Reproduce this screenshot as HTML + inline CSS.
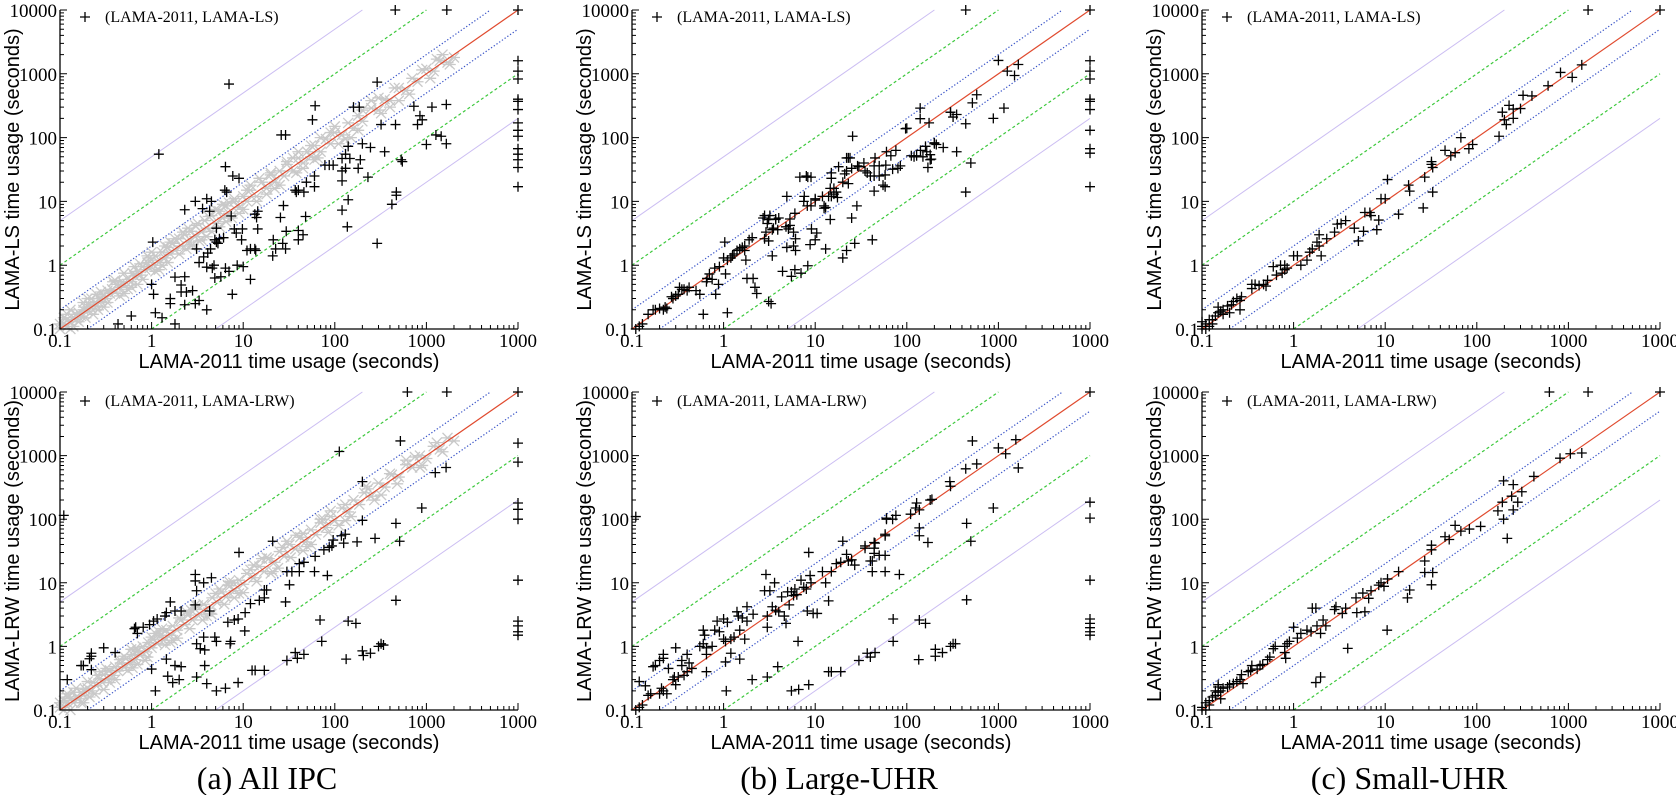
<!DOCTYPE html>
<html><head><meta charset="utf-8"><style>
html,body{margin:0;padding:0;background:#fff;}
svg{display:block;}
.tk{font-family:"Liberation Serif",serif;font-size:19px;fill:#000;}
.ttl{font-family:"Liberation Sans",sans-serif;font-size:20px;fill:#000;}
.lg{font-family:"Liberation Serif",serif;font-size:16px;fill:#000;}
.cap{font-family:"Liberation Serif",serif;font-size:32px;fill:#000;}
</style></head><body>
<svg id="fig" width="1676" height="795" viewBox="0 0 1676 795" xmlns="http://www.w3.org/2000/svg"></svg>
<script>
const yTickLabels = ["0.1","1","10","100","1000","10000"];
const xTickLabels = ["0.1","1","10","100","1000","1000"];
const captions = ["(a) All IPC","(b) Large-UHR","(c) Small-UHR"];
const yTitles = ["LAMA-LS time usage (seconds)","LAMA-LRW time usage (seconds)"];
const legendTexts = ["(LAMA-2011, LAMA-LS)","(LAMA-2011, LAMA-LRW)"];

const grayA_LS = [[0.1,0.1],[0.11,0.12],[0.12,0.11],[0.12,0.14],[0.13,0.13],[0.14,0.15],[0.15,0.14],[0.15,0.17],[0.16,0.18],[0.17,0.16],[0.18,0.2],[0.19,0.22],[0.2,0.19],[0.21,0.24],[0.22,0.21],[0.24,0.26],[0.25,0.23],[0.27,0.3],[0.28,0.27],[0.3,0.33],[0.32,0.3],[0.33,0.4],[0.35,0.36],[0.37,0.42],[0.4,0.38],[0.42,0.5],[0.45,0.45],[0.48,0.55],[0.5,0.48],[0.55,0.6],[0.6,0.55],[0.62,0.75],[0.65,0.68],[0.7,0.8],[0.75,0.7],[0.8,0.95],[0.85,0.85],[0.9,1.1],[0.95,0.9],[1.0,1.2],[1.05,1.0],[1.1,1.4],[1.2,1.1],[1.3,1.6],[1.4,1.3],[1.5,1.9],[1.6,1.5],[1.7,2.2],[1.8,1.7],[2.0,2.6],[2.1,2.0],[2.3,3.0],[2.5,2.3],[2.7,3.4],[3.0,2.8],[3.2,4.5],[3.5,3.3],[3.8,5],[4.0,3.8],[4.5,6],[5.0,4.5],[5.5,7],[6,5.5],[6.5,8.5],[7,6.5],[8,10],[9,8],[10,12],[11,10],[12,15],[14,12],[16,20],[18,16],[20,26],[22,20],[25,30],[28,25],[30,38],[35,30],[40,48],[45,40],[50,60],[55,50],[60,75],[70,60],[80,95],[90,80],[100,120],[120,110],[140,170],[160,140],[180,220],[200,180],[250,290],[300,270],[350,400],[400,380],[500,600],[600,550],[700,850],[800,750],[1000,1200],[1200,1100],[1400,1600],[1700,1500],[2000,1800],[0.13,0.2],[0.2,0.3],[0.3,0.22],[0.5,0.75],[0.7,0.5],[1.0,1.6],[1.5,1.1],[2.5,3.8],[4,2.8],[6,9],[9,6.5],[15,23],[25,18],[40,60],[60,45],[100,150],[150,100],[250,380],[400,300],[1500,2000],[0.25,0.35],[0.45,0.33],[0.9,1.4],[1.2,0.85],[2.2,3.3],[3.5,2.5],[5,7.5],[7.5,5.5],[12,18],[18,13],[30,42],[45,33],[70,100],[110,80],[300,420],[500,380],[0.11,0.15],[0.14,0.11],[0.18,0.26],[0.23,0.17],[0.38,0.55],[0.55,0.42],[0.75,1.05],[1.1,0.8],[1.8,2.6],[2.8,2.1],[0.12,0.17],[0.16,0.13],[0.19,0.15],[0.26,0.2],[0.33,0.26],[0.4,0.58],[0.6,0.45],[0.65,0.95],[0.8,0.6],[1.3,1.0],[1.4,2.0],[2.0,1.5],[2.4,1.8],[3.0,4.2],[3.3,2.4],[4.2,5.8],[5.5,4.0],[6.5,4.8],[8,11],[10,7.5],[11,15],[14,10],[20,28],[22,16],[35,48],[38,28],[55,75],[65,48],[90,120],[130,95],[180,130],[200,270],[320,240],[450,600],[650,480],[900,1150],[1100,850],[1300,1700],[1800,1400],[0.1,0.12],[0.13,0.1],[0.22,0.3],[0.28,0.38],[0.5,0.36],[0.95,1.3],[1.6,2.3],[2.7,2.0],[4.5,3.4],[7,9.5]];
const grayA_LRW = [[0.1,0.11],[0.11,0.1],[0.12,0.13],[0.13,0.15],[0.14,0.13],[0.15,0.16],[0.16,0.15],[0.17,0.19],[0.18,0.17],[0.19,0.21],[0.2,0.22],[0.22,0.2],[0.23,0.27],[0.25,0.24],[0.27,0.31],[0.29,0.27],[0.3,0.36],[0.33,0.31],[0.35,0.42],[0.38,0.35],[0.4,0.48],[0.43,0.41],[0.46,0.55],[0.5,0.47],[0.53,0.65],[0.58,0.55],[0.62,0.75],[0.66,0.62],[0.7,0.85],[0.75,0.72],[0.8,1.0],[0.87,0.82],[0.92,1.15],[1.0,0.95],[1.05,1.3],[1.15,1.1],[1.25,1.5],[1.35,1.25],[1.45,1.8],[1.6,1.5],[1.7,2.1],[1.9,1.8],[2.1,2.6],[2.3,2.2],[2.5,3.1],[2.8,2.6],[3.0,3.8],[3.4,3.2],[3.7,4.6],[4.2,4.0],[4.6,5.8],[5.2,4.9],[5.8,7.2],[6.5,6.0],[7.2,9],[8,7.5],[9,11],[10,9.5],[11,14],[13,12],[15,18],[17,15],[19,24],[22,21],[25,31],[28,26],[32,40],[37,34],[42,52],[48,44],[55,68],[62,57],[70,88],[80,74],[90,110],[100,95],[120,150],[140,130],[160,200],[185,170],[210,260],[250,230],[300,370],[350,320],[420,500],[500,460],[600,720],[700,650],[850,1000],[1000,900],[1200,1400],[1400,1250],[1700,1900],[2000,1700],[0.12,0.18],[0.18,0.13],[0.28,0.4],[0.4,0.3],[0.6,0.9],[0.85,0.6],[1.3,1.9],[1.9,1.35],[3,4.5],[4.5,3.2],[7,10.5],[10,7],[16,24],[24,17],[38,56],[55,40],[90,135],[130,95],[220,330],[320,240],[600,850],[900,700],[0.15,0.22],[0.24,0.18],[0.5,0.7],[0.7,0.52],[1.1,1.6],[1.6,1.15],[2.4,3.5],[3.6,2.6],[5.5,8],[8,5.8],[13,19],[20,14],[30,45],[45,32],[70,100],[110,80],[0.11,0.14],[0.13,0.1],[0.2,0.28],[0.3,0.21],[0.12,0.16],[0.17,0.13],[0.21,0.16],[0.26,0.35],[0.35,0.27],[0.45,0.62],[0.55,0.42],[0.68,0.95],[0.9,0.68],[1.2,1.7],[1.4,1.05],[2.0,2.8],[2.6,1.9],[3.2,4.4],[4,3],[5,6.8],[6.2,4.6],[7.8,10],[9,6.8],[12,16],[14,10.5],[18,25],[21,15],[27,36],[33,25],[45,60],[50,37],[75,100],[85,62],[130,170],[150,110],[230,300],[270,200],[400,520],[480,360],[750,950],[850,650],[1300,1600],[1500,1150],[0.1,0.13],[0.14,0.19],[0.32,0.45],[0.62,0.46],[1.0,1.4],[1.7,1.25],[2.7,3.7],[4.4,3.3],[6.8,9.2]];

const blackA_LS = [[457,10000],[1670,10000],[10000,10000],[7,690],[1.2,55],[290,740],[10000,1600],[10000,1100],[10000,830],[10000,400],[10000,370],[10000,275],[10000,170],[10000,130],[10000,105],[10000,67],[10000,55],[10000,45],[10000,34],[10000,17],[61,316],[160,300],[185,300],[730,310],[1150,300],[1650,330],[850,220],[900,190],[800,160],[320,160],[460,160],[57,190],[26,110],[29,110],[1270,110],[1450,105],[1650,80],[1000,78],[350,60],[200,80],[245,70],[140,73],[131,55],[120,47],[146,47],[190,45],[230,24],[78,37],[87,37],[96,37],[120,30],[131,33],[180,33],[60,25],[60,17],[49,20],[37,15],[38,14],[40,15],[46,14],[120,21],[120,7.3],[140,10.6],[137,4],[420,9],[470,14],[470,12.5],[546,42],[530,45],[290,2.2],[6.4,35],[6.3,15],[6.6,14],[7.7,25],[9,23],[7.4,5.9],[2.3,7.4],[3,10],[4,11],[4.5,10],[3.6,7.7],[5.1,3.8],[4.3,7],[4.4,1.8],[4.9,2.5],[5.1,2.3],[5.3,2.2],[5.5,2.6],[6.1,2.7],[8,3.7],[9.8,3.7],[8.4,3.2],[9.6,2.5],[14.4,7],[13.4,6.3],[14,5.6],[14.4,3.7],[12,1.8],[13.4,1.8],[21.3,2.5],[22.6,1.8],[21,1.4],[27.5,8.6],[29.5,3.4],[27,2.2],[29,1.8],[25.5,5.6],[40,3.5],[45,3],[40,2.5],[48,5.8],[1.03,2.3],[1,0.5],[1.05,0.35],[0.6,0.16],[0.43,0.12],[1.1,0.18],[1.3,0.15],[1.6,0.3],[1.6,0.25],[1.8,0.65],[2.3,0.66],[2.1,0.49],[2.1,0.38],[2.3,0.24],[2.4,0.38],[2.8,0.4],[3,0.25],[3.3,0.28],[4,0.2],[1.8,0.12],[4.8,1.0],[3.7,1.35],[3.3,1.1],[4,0.93],[4.6,0.9],[6.4,0.9],[5.7,0.66],[4.9,0.63],[7,0.8],[7.6,0.35],[8.6,1],[10,0.95],[12,0.6],[11,1.7],[13.7,1.7],[4.1,1.55],[3.1,1.8]];

const blackA_LRW = [[620,10000],[1670,10000],[10000,10000],[520,1700],[112,1160],[1250,540],[1640,650],[10000,1570],[10000,790],[10000,180],[10000,143],[10000,100],[10000,11],[10000,2.5],[10000,2.1],[10000,1.7],[10000,1.5],[200,390],[890,150],[465,86],[510,45],[465,5.3],[200,96],[275,50],[175,44],[125,42],[118,55],[130,58],[96,47],[87,36],[93,38],[76,33],[61,26],[46,21],[41,20],[34,15],[41,15],[60,15],[30,15],[32,9.3],[83,13],[29,5],[17,7.7],[18,7.7],[17,5.8],[12,4.7],[15,5.3],[10.5,3.4],[10.4,1.75],[6.8,2.4],[8,2.6],[7.3,1.2],[8.8,2.7],[69,2.6],[140,2.5],[170,2.3],[72,1.2],[37,0.8],[39,0.65],[46,0.75],[133,0.63],[200,0.85],[205,0.72],[245,0.78],[300,1.0],[320,1.1],[340,1.05],[30,0.6],[13.5,0.42],[12.5,0.42],[17,0.42],[8.8,0.27],[6.4,0.22],[5.1,0.2],[4,0.26],[3.8,0.5],[3.1,0.33],[1.8,0.5],[1.7,0.27],[2,0.3],[2.1,0.48],[1.45,0.63],[1.5,0.34],[1.1,0.2],[1.0,0.44],[3.1,1.1],[3.4,0.92],[3.7,1.4],[3.8,0.88],[4.9,1.4],[5.1,1.2],[7.2,1.1],[3,13.5],[3,10.7],[3.1,7.5],[3.7,10],[3,4.5],[4.3,3.6],[1.8,3.6],[2.1,3.6],[1.6,5],[1.45,3.4],[1.4,3],[1.15,2.7],[1.05,2.5],[0.95,2.2],[0.81,2],[0.67,2],[0.7,1.6],[0.65,1.9],[0.3,0.95],[0.4,0.8],[0.22,0.78],[0.22,0.7],[0.21,0.64],[0.18,0.5],[0.17,0.5],[0.22,0.43],[0.12,0.3],[0.11,115],[4.5,12],[9,30],[21,45]];

const blackB_LS = [[10000,10000],[10000,1600],[10000,1100],[10000,830],[10000,400],[10000,370],[10000,275],[10000,130],[10000,67],[10000,57],[10000,17],[440,10000],[1000,1620],[1250,1100],[1500,940],[1650,1400],[1150,290],[880,200],[580,470],[520,350],[300,250],[320,210],[440,165],[500,40],[440,14],[350,60],[140,290],[140,198],[141,63],[175,170],[160,73],[165,60],[170,34],[180,54],[128,52],[112,52],[97,138],[200,83],[210,78],[250,70],[185,46],[76,63],[59,37],[58,17],[58,26],[67,52],[50,36],[44,36],[44,25],[44,14.5],[42,2.5],[85,36],[23,19],[28.5,8.5],[25,5.5],[27,2.2],[20,1.3],[22,1.7],[22,30],[22,48],[24,48],[25.6,105],[21,27],[29,36],[37,28],[34,40],[15,23],[15,28],[14.6,16],[14,12],[16,13],[17.5,11.5],[12.5,8.5],[12.5,7.8],[14.6,5.2],[13,1.8],[10,11],[9,8.5],[7.6,12],[6.8,24],[8.3,24],[8.2,8.5],[9.1,3.7],[10.4,3.2],[10,2.5],[8.8,2.1],[8.3,0.98],[4.9,12],[5.3,5.3],[5.8,3.3],[6.1,2.6],[5.8,2],[6.1,1.7],[5.3,4.2],[4.9,1.9],[4.4,0.8],[5.5,0.67],[6,0.85],[7,0.75],[3.7,5.2],[3.9,3.6],[3.4,3.6],[3.1,5.2],[3.2,6],[2.9,3.3],[2.8,2.6],[3.1,2.4],[3.4,1.4],[3.1,0.27],[3.3,0.25],[2.3,0.36],[2.2,0.45],[2.1,0.62],[1.8,0.62],[1.1,0.18],[0.6,0.17],[0.82,0.35],[0.88,0.5],[1.05,0.73],[1.03,2.3],[2.05,2.7],[1.7,1.7],[1.75,1.2],[0.12,0.11],[0.11,0.1],[0.13,0.12],[0.15,0.17],[0.17,0.2],[0.18,0.2],[0.2,0.21],[0.22,0.2],[0.23,0.22],[0.24,0.21],[0.27,0.32],[0.28,0.3],[0.3,0.33],[0.32,0.35],[0.33,0.45],[0.35,0.42],[0.37,0.42],[0.4,0.4],[0.42,0.45],[0.5,0.4],[0.55,0.35],[0.65,0.55],[0.66,0.62],[0.7,0.73],[0.75,0.6],[0.8,0.9],[0.9,0.95],[1.0,1.3],[1.1,1.2],[1.2,1.3],[1.25,1.4],[1.3,1.5],[1.4,1.7],[1.5,1.8],[1.6,1.9],[1.7,2.0],[1.9,2.5],[2.7,5.5],[2.8,6],[3,4.5],[3.5,3.8],[3.7,5.3],[4,5.5],[4.8,4],[5.1,3.7],[6,6.5],[7.5,10],[8,25],[9,24],[10,10.5],[12,12],[13,8],[15,12],[16,16],[17,14],[18,35],[20,20],[23,48],[25,33],[30,35],[35,30],[40,25],[45,48],[50,25],[55,18],[60,60],[70,32],[80,33],[100,140],[120,50],[150,50],[180,45],[200,80],[300,250],[350,230]];

const blackB_LRW = [[10000,10000],[10000,185],[10000,104],[10000,11],[10000,2.7],[10000,2.3],[10000,1.97],[10000,1.7],[10000,1.5],[520,1700],[1000,1320],[1200,1070],[1550,1780],[1650,640],[580,740],[440,620],[295,390],[300,330],[880,150],[450,86],[500,45],[450,5.4],[188,205],[125,150],[110,120],[128,180],[137,140],[137,73],[137,55],[170,43],[180,200],[76,115],[60,104],[58,58],[58,27],[58,15],[44,43],[44,35],[44,29],[42,22],[42,15],[35,38],[83,13.5],[71,2.7],[71,1.2],[137,2.6],[160,2.3],[135,0.62],[205,0.9],[205,0.7],[245,0.8],[300,1.0],[320,1.1],[340,1.1],[45,0.8],[37,0.78],[40,0.68],[30,0.6],[19,0.4],[14,0.4],[15,0.4],[8.5,0.25],[6.6,0.21],[5.5,0.2],[3,0.33],[2.05,0.3],[1.07,0.2],[3.9,0.48],[1.5,0.63],[1.2,0.78],[1.05,0.57],[0.65,0.4],[0.65,0.95],[0.6,1.1],[0.11,0.1],[0.12,0.11],[0.13,0.12],[0.14,0.24],[0.12,0.28],[0.15,0.17],[0.16,0.18],[0.17,0.48],[0.18,0.5],[0.2,0.18],[0.2,0.6],[0.22,0.65],[0.22,0.75],[0.21,0.22],[0.22,0.2],[0.24,0.18],[0.25,0.45],[0.28,0.3],[0.29,0.33],[0.3,0.95],[0.3,0.25],[0.32,0.33],[0.35,0.5],[0.35,0.6],[0.37,0.35],[0.4,0.75],[0.4,0.4],[0.42,0.55],[0.45,0.45],[0.55,1.0],[0.6,1.8],[0.62,1.5],[0.65,0.75],[0.75,1.0],[0.8,1.8],[0.85,2.5],[0.9,1.7],[1.0,2.7],[1.0,1.3],[1.05,1.2],[1.1,2.4],[1.2,1.3],[1.3,1.4],[1.4,3.5],[1.45,3.0],[1.5,1.8],[1.6,2.8],[1.7,1.3],[1.8,4.2],[1.8,2.5],[2.1,3.2],[2.8,7.5],[2.9,13.5],[3,3],[3,2],[3.2,7.5],[3.4,4.2],[3.6,10],[3.7,3.7],[4,3.5],[4.3,6],[4.6,3],[4.8,2.3],[5,7.2],[5.2,4.5],[5.5,7.2],[5.8,6.3],[6,8],[6.3,6.5],[7,11],[7.5,8.5],[8,8],[8.5,30],[8.8,13],[9,10],[9.5,3.3],[10.5,3.3],[12,15],[13,10],[14,5.2],[15,15],[17,20],[19,21],[20,45],[22,28],[23,22],[25,23],[27,19],[35,35],[40,22],[45,42],[50,27],[60,100],[70,100],[58,55],[8.2,3.6],[6.5,1.2],[0.11,110]];

const blackC_LS = [[1640,10000],[10000,10000],[1400,1380],[820,1050],[1100,880],[600,650],[400,450],[320,460],[190,250],[200,190],[225,320],[250,280],[300,285],[210,160],[175,105],[250,200],[90,78],[82,67],[67,100],[58,58],[45,63],[52,52],[32,42],[32,38],[33,34],[27,24],[26,7.9],[33,14],[18,18],[18.5,14.5],[14,6.3],[10.6,22],[9,11],[10,11],[8.5,5.1],[8.1,3.6],[6.8,6.7],[7,6],[6,6.7],[5.8,3.4],[5.1,2.4],[4.6,3.8],[3.7,5],[3.3,4.5],[3,4.4],[2.8,3.3],[2.3,2.6],[2,1.4],[1.9,3],[1.9,2],[1.8,2.3],[1.6,1.8],[1.5,1.6],[1.4,1.2],[1.2,1.0],[1.1,1.4],[1.0,1.4],[0.8,1.0],[0.8,0.85],[0.85,0.9],[0.75,0.75],[0.6,0.95],[0.65,0.7],[0.52,0.58],[0.47,0.5],[0.5,0.47],[0.42,0.48],[0.38,0.5],[0.35,0.5],[0.35,0.43],[0.27,0.32],[0.26,0.28],[0.24,0.3],[0.22,0.27],[0.21,0.24],[0.19,0.23],[0.17,0.2],[0.16,0.19],[0.15,0.18],[0.14,0.16],[0.13,0.14],[0.12,0.14],[0.11,0.12],[0.1,0.11],[0.1,0.13],[0.15,0.22],[0.17,0.17],[0.2,0.18],[0.26,0.2],[0.72,1.0],[0.1,0.1],[0.11,0.1],[0.12,0.11],[0.13,0.12]];

const blackC_LRW = [[620,10000],[1640,10000],[10000,10000],[810,910],[1050,1070],[1400,1100],[420,470],[196,400],[250,350],[240,230],[310,270],[280,185],[190,185],[170,135],[250,140],[196,100],[215,50],[110,77],[83,70],[67,65],[58,80],[50,48],[45,53],[32,39],[32,33],[33,14.5],[32,9.3],[27,22],[27,14.5],[18.5,7.7],[17.5,5.8],[14,15],[10.6,11.5],[9,10],[8.5,9.2],[9.7,8.8],[7,7.5],[5.7,6.9],[6.6,5.7],[6,3.5],[4.9,3.4],[4.8,5.8],[3.7,4],[3.4,3.3],[2.9,4.2],[2.8,3.8],[2.1,2.6],[2.25,2.1],[1.97,1.6],[1.8,2.1],[1.75,4],[1.6,4],[1.55,1.7],[1.4,1.8],[1.2,1.6],[1.1,1.35],[1.0,2],[0.9,1.2],[0.85,1.1],[0.8,1.0],[0.8,0.8],[0.82,0.65],[0.63,1.0],[0.6,0.92],[0.55,0.68],[0.52,0.62],[0.46,0.52],[0.43,0.5],[0.4,0.44],[0.35,0.5],[0.34,0.42],[0.32,0.4],[0.27,0.36],[0.26,0.3],[0.24,0.28],[0.22,0.26],[0.2,0.25],[0.19,0.23],[0.17,0.22],[0.16,0.2],[0.15,0.19],[0.14,0.17],[0.13,0.16],[0.12,0.14],[0.11,0.13],[0.1,0.11],[0.15,0.25],[0.16,0.15],[0.28,0.26],[3.9,0.93],[1.75,0.27],[1.97,0.33],[10.5,1.8],[0.15,0.23],[0.14,0.2],[0.1,0.1],[0.11,0.1],[0.12,0.12]];

const NS = "http://www.w3.org/2000/svg";
const svg = document.getElementById("fig");
const lefts = [60, 632, 1202];
const rights = [518, 1090, 1660];
const tops = [10, 392];
const bottoms = [329, 710];
const panelKeys = ["a","b","c"];
const rowKeys = ["ls","lrw"];

function mk(tag, attrs, parent) {
  const e = document.createElementNS(NS, tag);
  for (const k in attrs) e.setAttribute(k, attrs[k]);
  (parent || svg).appendChild(e);
  return e;
}

function drawPanel(col, row, gray, black) {
  const L = lefts[col], R = rights[col], T = tops[row], B = bottoms[row];
  const dx = (R - L) / 5, dy = (B - T) / 5;
  const sx = v => L + (Math.log10(v) + 1) * dx;
  const sy = v => B - (Math.log10(v) + 1) * dy;
  const g = mk("g", {});
  
  

  if (gray) {
    const gg = mk("g", {stroke: "#c9c9c9", "stroke-width": "1.3", fill: "none"}, g);
    
    
    gray.forEach(p => {
      const x = sx(p[0]), y = sy(p[1]);
      const m = mk("path", {d: `M${x-5} ${y-5}L${x+5} ${y+5}M${x-5} ${y+5}L${x+5} ${y-5}M${x-6} ${y}L${x+6} ${y}`}, gg);
      
      
    });
  }

  const refs = [
    [50, 0.1, 200, "#cbbdf2", "", 1, "ref-line-50x"],
    [0.02, 5, 10000, "#cbbdf2", "", 1, "ref-line-50x-below"],
    [10, 0.1, 1000, "#3cc83c", "3 2.5", 1.2, "ref-line-10x"],
    [0.1, 1, 10000, "#3cc83c", "3 2.5", 1.2, "ref-line-10x-below"],
    [2, 0.1, 5000, "#3a55c8", "1.3 2", 1.2, "ref-line-2x"],
    [0.5, 0.2, 10000, "#3a55c8", "1.3 2", 1.2, "ref-line-2x-below"],
    [1, 0.1, 10000, "#e04a2e", "", 1.2, "ref-line-equal"]
  ];
  refs.forEach(r => {
    const l = mk("line", {x1: sx(r[1]), y1: sy(r[1]*r[0]), x2: sx(r[2]), y2: sy(r[2]*r[0]), stroke: r[3], "stroke-width": r[5], "stroke-dasharray": r[4]}, g);
    
    
  });

  const ax = mk("path", {d: `M${L} ${T}L${L} ${B}L${R} ${B}`, stroke: "#000", "stroke-width": "1.3", fill: "none"}, g);
  
  
  let td = "";
  for (let d = 0; d < 5; d++) {
    for (let k = 1; k <= 9; k++) {
      const v = Math.pow(10, d - 1) * k;
      const len = k === 1 ? 7 : 4;
      const x = sx(v), y = sy(v);
      td += `M${x} ${B}L${x} ${B-len}M${L} ${y}L${L+len} ${y}`;
    }
  }
  td += `M${R} ${B}L${R} ${B-7}M${L} ${T}L${L+7} ${T}`;
  const tk = mk("path", {d: td, stroke: "#000", "stroke-width": "1", fill: "none"}, g);
  
  

  yTickLabels.forEach((s, i) => {
    const t = mk("text", {x: L - 3, y: B - i * dy + 7, "text-anchor": "end", class: "tk"}, g);
    t.textContent = s;
    
    
  });
  xTickLabels.forEach((s, i) => {
    const t = mk("text", {x: L + i * dx, y: B + 18, "text-anchor": "middle", class: "tk"}, g);
    t.textContent = s;
    
    
  });
  const xt = mk("text", {x: (L + R) / 2, y: B + 39, "text-anchor": "middle", class: "ttl"}, g);
  xt.textContent = "LAMA-2011 time usage (seconds)";
  
  
  const ycx = L - 41, ycy = (T + B) / 2;
  const yt = mk("text", {x: ycx, y: ycy, "text-anchor": "middle", class: "ttl", transform: `rotate(-90 ${ycx} ${ycy})`}, g);
  yt.textContent = yTitles[row];
  
  

  const lgx = L + 25, lgy = T + 7 + (row ? 2 : 0);
  const lm = mk("path", {d: `M${lgx-5} ${lgy}L${lgx+5} ${lgy}M${lgx} ${lgy-5}L${lgx} ${lgy+5}`, stroke: "#000", "stroke-width": "1.3"}, g);
  
  
  const lt = mk("text", {x: L + 45, y: lgy + 5, class: "lg"}, g);
  lt.textContent = legendTexts[row];
  
  

  const bg = mk("g", {stroke: "#000", "stroke-width": "1.3", fill: "none"}, g);
  
  
  black.forEach(p => {
    const x = sx(p[0]), y = sy(p[1]);
    const m = mk("path", {d: `M${x-5} ${y}L${x+5} ${y}M${x} ${y-5}L${x} ${y+5}`}, bg);
    
    
  });
}

drawPanel(0, 0, grayA_LS, blackA_LS);
drawPanel(0, 1, grayA_LRW, blackA_LRW);
drawPanel(1, 0, null, blackB_LS);
drawPanel(1, 1, null, blackB_LRW);
drawPanel(2, 0, null, blackC_LS);
drawPanel(2, 1, null, blackC_LRW);

captions.forEach((c, i) => {
  const t = mk("text", {x: (lefts[i] + rights[i]) / 2 - 22, y: 789, "text-anchor": "middle", class: "cap"});
  t.textContent = c;
  
  
});
</script>
</body></html>
